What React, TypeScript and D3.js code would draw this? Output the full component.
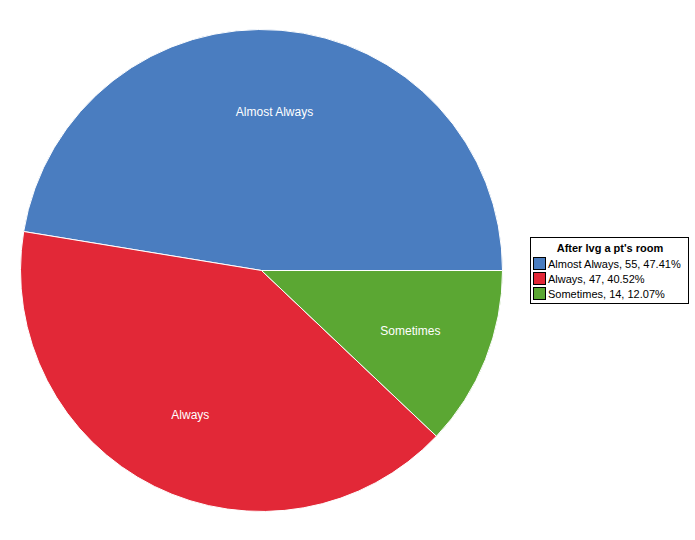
import React, { useEffect, useRef } from "react";
import * as d3 from "d3";

const categories = ["Almost Always", "Always", "Sometimes"];
const counts = [55, 47, 14];
const percents = ["47.41%", "40.52%", "12.07%"];
const colors = ["#4a7dc0", "#e22837", "#5ba733"];
const legendTitle = "After lvg a pt's room";

const App = () => {
  const ref = useRef<SVGSVGElement>(null);

  useEffect(() => {
    const svg = d3.select(ref.current);
    svg.selectAll("*").remove();

    const cx = 261.5;
    const cy = 270.5;
    const radius = 241;

    const data = categories.map((name, i) => ({ name, value: counts[i], pct: percents[i], color: colors[i] }));

    // counterclockwise from 3 o'clock
    const pie = d3
      .pie<any>()
      .value((d) => d.value)
      .sort(null)
      .startAngle(Math.PI / 2)
      .endAngle(Math.PI / 2 - 2 * Math.PI);

    const arc = d3.arc<any>().innerRadius(0).outerRadius(radius);
    const labelArc = d3.arc<any>().innerRadius(radius * 0.665).outerRadius(radius * 0.665);

    const g = svg.append("g").attr("transform", `translate(${cx},${cy})`);

    g.selectAll("path")
      .data(pie(data))
      .enter()
      .append("path")
      .attr("d", arc)
      .attr("fill", (d) => d.data.color)
      .attr("stroke", "#fff")
      .attr("stroke-width", 1);

    g.selectAll("text")
      .data(pie(data))
      .enter()
      .append("text")
      .attr("transform", (d) => {
        const [x, y] = labelArc.centroid(d);
        return `translate(${x}, ${y})`;
      })
      .attr("text-anchor", "middle")
      .attr("dy", "0.4em")
      .style("fill", "#fff")
      .style("font-family", "'Liberation Sans', Arial, sans-serif")
      .style("font-size", "12px")
      .text((d) => d.data.name);

    // legend
    const lx = 530;
    const ly = 237;
    const lw = 158;
    const lh = 66;
    const legend = svg.append("g");
    legend
      .append("rect")
      .attr("x", lx + 0.5)
      .attr("y", ly + 0.5)
      .attr("width", lw)
      .attr("height", lh)
      .attr("fill", "#fff")
      .attr("stroke", "#000");

    legend
      .append("text")
      .attr("x", lx + lw / 2 + 1)
      .attr("y", ly + 15)
      .attr("text-anchor", "middle")
      .style("font-family", "'Liberation Sans', Arial, sans-serif")
      .style("font-size", "11px")
      .style("font-weight", "bold")
      .text(legendTitle);

    const rows = legend
      .selectAll("g.row")
      .data(data)
      .enter()
      .append("g")
      .attr("class", "row")
      .attr("transform", (d, i) => `translate(${lx + 3}, ${ly + 20 + i * 15})`);

    rows
      .append("rect")
      .attr("x", 0.5)
      .attr("y", 0.5)
      .attr("width", 12)
      .attr("height", 12)
      .attr("fill", (d) => d.color)
      .attr("stroke", "#000");

    rows
      .append("text")
      .attr("x", 15)
      .attr("y", 11)
      .style("font-family", "'Liberation Sans', Arial, sans-serif")
      .style("font-size", "11px")
      .text((d) => `${d.name}, ${d.value}, ${d.pct}`);
  }, []);

  return (
    <svg
      ref={ref}
      width={695}
      height={540}
      style={{ position: "absolute", left: 0, top: 0, background: "#fff" }}
    />
  );
};

export default App;
